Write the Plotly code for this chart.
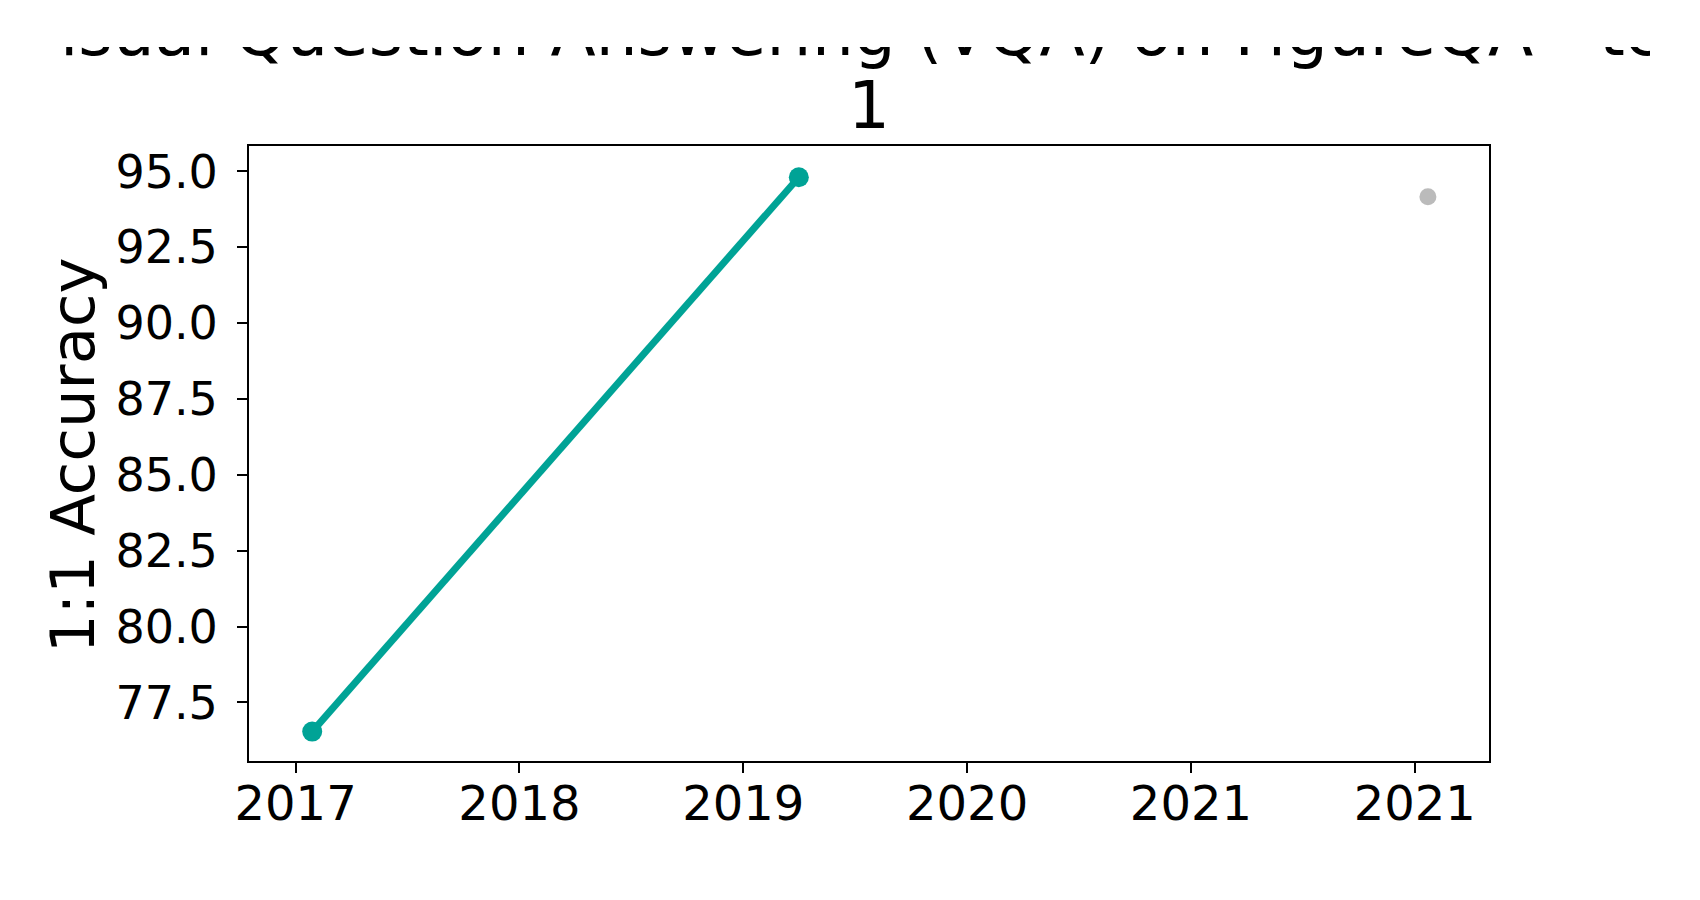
import plotly.graph_objects as go

# ---- data ----
sota_x = [2017.753, 2019.601]          # decimal year
sota_y = [76.54, 94.81]                # 1:1 Accuracy
other_x = [2021.990]
other_y = [94.17]

x_tick_vals = [2017.69, 2018.54, 2019.39, 2020.24, 2021.09, 2021.94]
x_tick_text = ["2017", "2018", "2019", "2020", "2021", "2021"]
y_tick_vals = [77.5, 80.0, 82.5, 85.0, 87.5, 90.0, 92.5, 95.0]
y_tick_text = ["77.5", "80.0", "82.5", "85.0", "87.5", "90.0", "92.5", "95.0"]

title_line1 = "Visual Question Answering (VQA) on FigureQA - test"
title_line2 = "1"
y_title = "1:1 Accuracy"

FONT = "DejaVu Sans"
TEAL = "#00A396"
GREY = "#BBBBBB"

W, H = 1700, 900
ML, MR, MT, MB = 249, 211, 146, 139
PW, PH = W - ML - MR, H - MT - MB
TITLE_SIZE = 66


def px_to_paper_x(px):
    return (px - ML) / PW


def px_to_paper_y(py):
    return (H - MB - py) / PH


fig = go.Figure()
fig.add_trace(go.Scatter(
    x=other_x, y=other_y, mode="markers",
    marker=dict(color=GREY, size=17, line=dict(width=0)),
    showlegend=False, hoverinfo="skip"))
fig.add_trace(go.Scatter(
    x=sota_x, y=sota_y, mode="lines+markers",
    line=dict(color=TEAL, width=7),
    marker=dict(color=TEAL, size=20, line=dict(width=0)),
    showlegend=False, hoverinfo="skip"))

axis_common = dict(
    showline=True, linecolor="black", linewidth=2, mirror=True,
    ticks="outside", ticklen=10, tickwidth=1.7, tickcolor="black",
    showgrid=False, zeroline=False,
)

fig.update_xaxes(range=[2017.513, 2022.222], tickmode="array",
                 tickvals=x_tick_vals, ticktext=x_tick_text,
                 ticklabelstandoff=-11,
                 tickfont=dict(family=FONT, size=48, color="black"),
                 **axis_common)
fig.update_yaxes(range=[75.57, 95.84], tickmode="array",
                 tickvals=y_tick_vals, ticktext=y_tick_text,
                 ticklabelstandoff=10,
                 tickfont=dict(family=FONT, size=46, color="black"),
                 **axis_common)

annotations = [
    # first title line, clipped like in the reference
    dict(text="&nbsp;&nbsp;" + title_line1, xref="paper", yref="paper",
         x=px_to_paper_x(50), y=px_to_paper_y(46.5),
         xanchor="left", yanchor="top", width=1600, height=24,
         align="center", valign="bottom", showarrow=False,
         borderpad=0, borderwidth=0,
         font=dict(family=FONT, size=TITLE_SIZE, color="black")),
    dict(text=title_line2, xref="paper", yref="paper",
         x=0.5, y=px_to_paper_y(143.9), xanchor="center", yanchor="bottom",
         showarrow=False, borderpad=0, borderwidth=0,
         font=dict(family=FONT, size=TITLE_SIZE, color="black")),
    dict(text=y_title, xref="paper", yref="paper", textangle=-90,
         x=px_to_paper_x(72.0), y=0.497, xanchor="center", yanchor="middle",
         showarrow=False, borderpad=0, borderwidth=0,
         font=dict(family=FONT, size=61, color="black")),
]

fig.update_layout(
    width=W, height=H, autosize=False,
    margin=dict(l=ML, r=MR, t=MT, b=MB, pad=0),
    paper_bgcolor="white", plot_bgcolor="white",
    font=dict(family=FONT, color="black"),
    annotations=annotations,
)

fig.write_html("out.html", config={"displayModeBar": False},
               post_script="document.body.style.margin='0';")
